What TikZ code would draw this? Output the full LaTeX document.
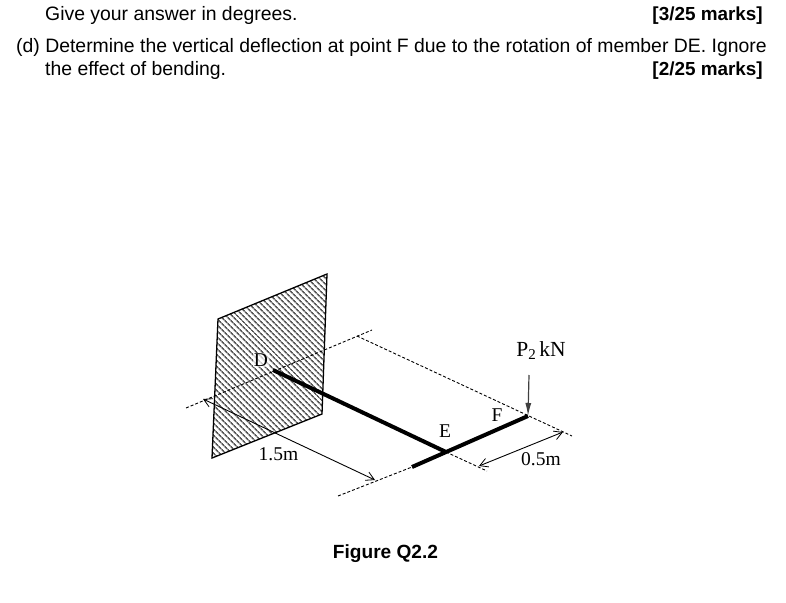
\documentclass[tikz,border=0pt]{standalone}
\usepackage{fontspec}
\setmainfont{Liberation Sans}
\newfontfamily\figfont{Liberation Serif}
\usetikzlibrary{patterns.meta,arrows.meta}
\tikzset{
	question/.style={anchor=base west,inner sep=0pt,font=\fontsize{19.4}{21}\selectfont},
	marks/.style={anchor=base east,inner sep=0pt,font=\fontsize{18.9}{21}\selectfont\bfseries},
	figlabel/.style={inner sep=0pt,font=\figfont\fontsize{19.5}{21}\selectfont},
	member/.style={line width=4pt},
	guide/.style={line width=0.9pt,dash pattern=on 3pt off 2pt},
	dim/.style={line width=0.9pt,{Straight Barb[length=8pt,width=9pt,line width=0.8pt]}-{Straight Barb[length=8pt,width=9pt,line width=0.8pt]}}
}
\begin{document}
\begin{tikzpicture}[x=1pt,y=-1pt]
			\useasboundingbox (0,0) rectangle (786,602);
			
			\node[question] (q1)at(45,20.5) {Give your answer in degrees.};
			\node[marks] (m1)at(763,21) {[3/25 marks]};
			\node[question] (q2)at(16,52.5) {(d) Determine the vertical deflection at point F due to the rotation of member DE. Ignore};
			\node[question] (q3)at(45,75.5) {the effect of bending.};
			\node[marks] (m2)at(763,75.5) {[2/25 marks]};
			
			\coordinate (p1)at(218,319);
			\coordinate (p2)at(327,274);
			\coordinate (p3)at(322,414);
			\coordinate (p4)at(212,458);
			\coordinate (D)at(273,370);
			\coordinate (E)at(446,452);
			\coordinate (F)at(528,416);
			\coordinate (G)at(412,467);
			\coordinate (a1)at(186,408);
			\coordinate (a2)at(372,330);
			\coordinate (a3)at(357,336);
			\coordinate (a4)at(572,436);
			\coordinate (a5)at(338,496);
			\coordinate (a6)at(487,471);
			\coordinate (b1)at(203,399);
			\coordinate (b2)at(375,480);
			\coordinate (c1)at(479,466);
			\coordinate (c2)at(563,432);
			\coordinate (P)at(529,375);
			
			\draw[line width=1.3pt,pattern={Lines[angle=-45,distance=4pt,line width=1.7pt]},pattern color=black!65] (p1) -- (p2) -- (p3) -- (p4) -- cycle;
			
			\draw[guide] (a1) -- (a2);
			\draw[guide] (a3) -- (a4);
			\draw[guide] (a5) -- (G);
			\draw[guide] (E) -- (a6);
			
			\draw[dim] (b1) -- (b2);
			\draw[dim] (c1) -- (c2);
			
			\draw[member] (D) -- (E);
			\draw[member] (G) -- (F);
			\draw[line width=1.2pt,black!75,-{Latex[length=13pt,width=6pt]}] (P) -- (F);
			
			\node[figlabel,fill=white,fill opacity=0.7,text opacity=1,inner sep=0.5pt] (Dl)at(261,360) {D};
			\node[figlabel] (El)at(445,431) {E};
			\node[figlabel] (Fl)at(497,415) {F};
			\node[figlabel] (l1)at(278.5,454) {1.5m};
			\node[figlabel] (l2)at(541,459) {0.5m};
			\node[figlabel,font=\figfont\fontsize{21.5}{23}\selectfont] (Pl)at(541,351) {P\raisebox{-3pt}{\fontsize{15}{15}\selectfont 2}\,kN};
			\node[anchor=base,inner sep=0pt,font=\fontsize{19.1}{21}\selectfont\bfseries] (cap)at(385.5,558.5) {Figure Q2.2};
		\end{tikzpicture}
\end{document}
